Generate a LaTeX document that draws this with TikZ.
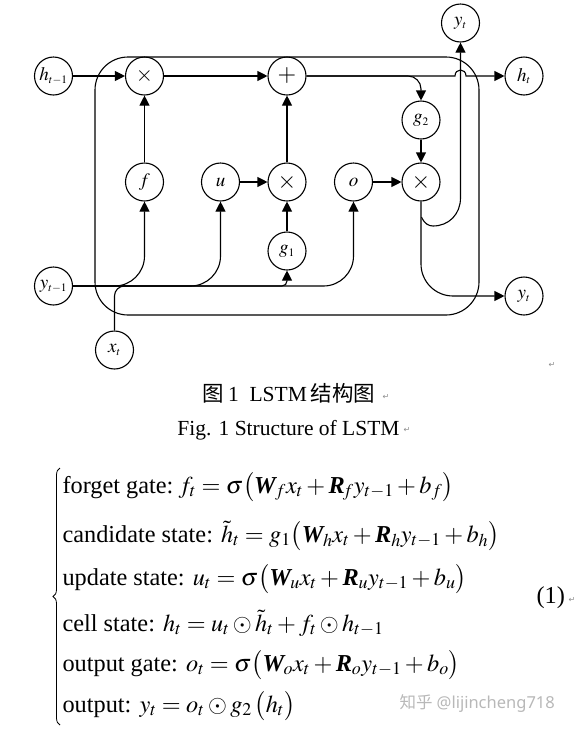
\documentclass[tikz,border=0pt]{standalone}
\usepackage{mathptmx}
\usepackage[no-math]{fontspec}
\setmainfont{Liberation Serif}
\newfontfamily\cjkfont{Noto Sans CJK SC}
\newfontfamily\markfont{DejaVu Sans}
\newfontfamily\wmfont{Noto Sans}
\usetikzlibrary{arrows.meta,calc,decorations.pathreplacing}
\newcommand{\bfit}[1]{\textbf{\textit{#1}}}
\newcommand{\pa}[1]{\smash{\left(\rule[-9pt]{0pt}{28pt}#1\right)}}
\newcommand{\sub}[1]{_{\scriptscriptstyle #1}}
\thickmuskip=4mu plus 2mu
\begin{document}
\begin{tikzpicture}[x=1pt, y=-1pt, line width=1.1pt,
  unit/.style={draw, circle, minimum size=38pt, inner sep=0pt, font=\fontsize{19}{22}\selectfont},
  flow/.style={-{Triangle[length=10pt,width=10pt]}},
  eqline/.style={anchor=base west, inner sep=0pt, font=\fontsize{24.3}{28}\selectfont},
  caption/.style={anchor=base, inner sep=0pt, font=\fontsize{21.5}{26}\selectfont},
  retmark/.style={inner sep=0pt, text=black!45, font=\markfont\fontsize{8}{10}\selectfont}]
  \useasboundingbox (0,0) rectangle (576,729);
  % loop behind the gates
  \node[draw, rounded corners=33pt, minimum width=384pt, minimum height=258pt, inner sep=0pt] (loop) at (287,186) {};
  % nodes
  \node[unit] (hprev) at (53.5,76) {$h\sub{t-1}$};
  \node[unit] (mulf) at (144.5,76) {\fontsize{22}{22}\selectfont$\times$};
  \node[unit] (add) at (287,76) {\fontsize{24}{24}\selectfont$+$};
  \node[unit] (ytop) at (460.5,23) {$y\sub{t}$};
  \node[unit] (hout) at (524,76) {$h\sub{t}$};
  \node[unit] (gtwo) at (421,120) {$g\sub{2}$};
  \node[unit] (f) at (144.5,182) {$f$};
  \node[unit] (u) at (220.5,182) {$u$};
  \node[unit] (mulu) at (287,182) {\fontsize{24}{24}\selectfont$\times$};
  \node[unit] (o) at (353.5,182) {$o$};
  \node[unit] (mulo) at (421,182) {\fontsize{24}{24}\selectfont$\times$};
  \node[unit] (gone) at (287,251) {$g\sub{1}$};
  \node[unit] (yprev) at (53.5,286) {$y\sub{t-1}$};
  \node[unit] (x) at (114.5,350) {$x\sub{t}$};
  \node[unit] (yout) at (524,296) {$y\sub{t}$};
  \coordinate (xjoin) at (130,286);
  \coordinate (hopin) at (455,76);
  \coordinate (hopout) at (466,76);
  \coordinate (gturn) at (421,76);
  \coordinate (ybranch) at (421.5,217);
  \coordinate (ylow) at (433,226);
  \coordinate (yrise) at (460.5,198);
  % straight flows
  \draw[flow] (hprev) -- (mulf);
  \draw[flow] (mulf) -- (add);
  \draw[flow] (f) -- (mulf);
  \draw[flow] (mulu) -- (add);
  \draw[flow] (u) -- (mulu);
  \draw[flow] (gone) -- (mulu);
  \draw[flow] (o) -- (mulo);
  \draw[flow] (gtwo) -- (mulo);
  % flows with corners
  \draw[flow, rounded corners=30pt] (yprev) -- (f |- yprev) -- (f);
  \draw[flow, rounded corners=30pt] (yprev) -- (u |- yprev) -- (u);
  \draw[flow, rounded corners=30pt] (yprev) -- (o |- yprev) -- (o);
  \draw[flow, rounded corners=5pt] (yprev) -- (gone |- yprev) -- (gone);
  \draw[rounded corners=10pt] (x) -- (x |- yprev) -- (xjoin);
  \draw[flow, rounded corners=13pt] (add) -- (gturn) -- (gtwo);
  \draw[flow] (add) -- (hopin) .. controls ($(hopin)+(0,-8)$) and ($(hopout)+(0,-8)$) .. (hopout) -- (hout);
  \draw[flow, rounded corners=32pt] (mulo) -- (mulo |- yout) -- (yout);
  \draw[flow] (ybranch) .. controls ($(ybranch)+(3,7)$) and ($(ylow)+(-4,0)$) .. (ylow) .. controls ($(ylow)+(16,0)$) and ($(yrise)+(0,16)$) .. (yrise) -- (ytop);
  % captions
  \node[caption] (capcn) at (289,401) {{\cjkfont 图}\,1\ \ LSTM\,{\cjkfont 结构图}};
  \node[caption] (capen) at (288.5,435) {Fig. 1 Structure of LSTM};
  % equations
  \draw[line width=0.8pt, decorate, decoration={brace, amplitude=7pt}] (60,725) -- (60,468);
  \node[eqline] (eqf) at (62,493) {forget gate:$\;f_t=\sigma\pa{\bfit{W}_{\!f}x_t+\bfit{R}_{\!f}y_{t-1}+b_f}$};
  \node[eqline] (eqc) at (62,542) {candidate state: $\tilde{h}_t=g_1\pa{\bfit{W}_{\!h}x_t+\bfit{R}_{h}y_{t-1}+b_h}$};
  \node[eqline] (equ) at (62,585) {update state: $u_t=\sigma\pa{\bfit{W}_{\!u}x_t+\bfit{R}_{u}y_{t-1}+b_u}$};
  \node[eqline] (eqh) at (62,631) {cell state: $h_t=u_t\odot\tilde{h}_t+f_t\odot h_{t-1}$};
  \node[eqline] (eqo) at (62,671) {output gate: $o_t=\sigma\pa{\bfit{W}_{\!o}x_t+\bfit{R}_{o}y_{t-1}+b_o}$};
  \node[eqline] (eqy) at (62,712) {output: $y_t=o_t\odot g_2\,\pa{h_t}$};
  \node[eqline] (eqnum) at (536,603) {(1)};
  % editor marks and watermark
  \node[retmark] (ret1) at (552,365) {↵};
  \node[retmark] (ret2) at (386,397) {↵};
  \node[retmark] (ret3) at (407,430) {↵};
  \node[retmark] (ret4) at (572,600) {↵};
  \node[anchor=base west, inner sep=0pt, text=black!28, font=\fontsize{16.5}{18}\selectfont] (mark) at (399,708) {{\cjkfont 知乎} {\wmfont @lijincheng718}};
\end{tikzpicture}
\end{document}
